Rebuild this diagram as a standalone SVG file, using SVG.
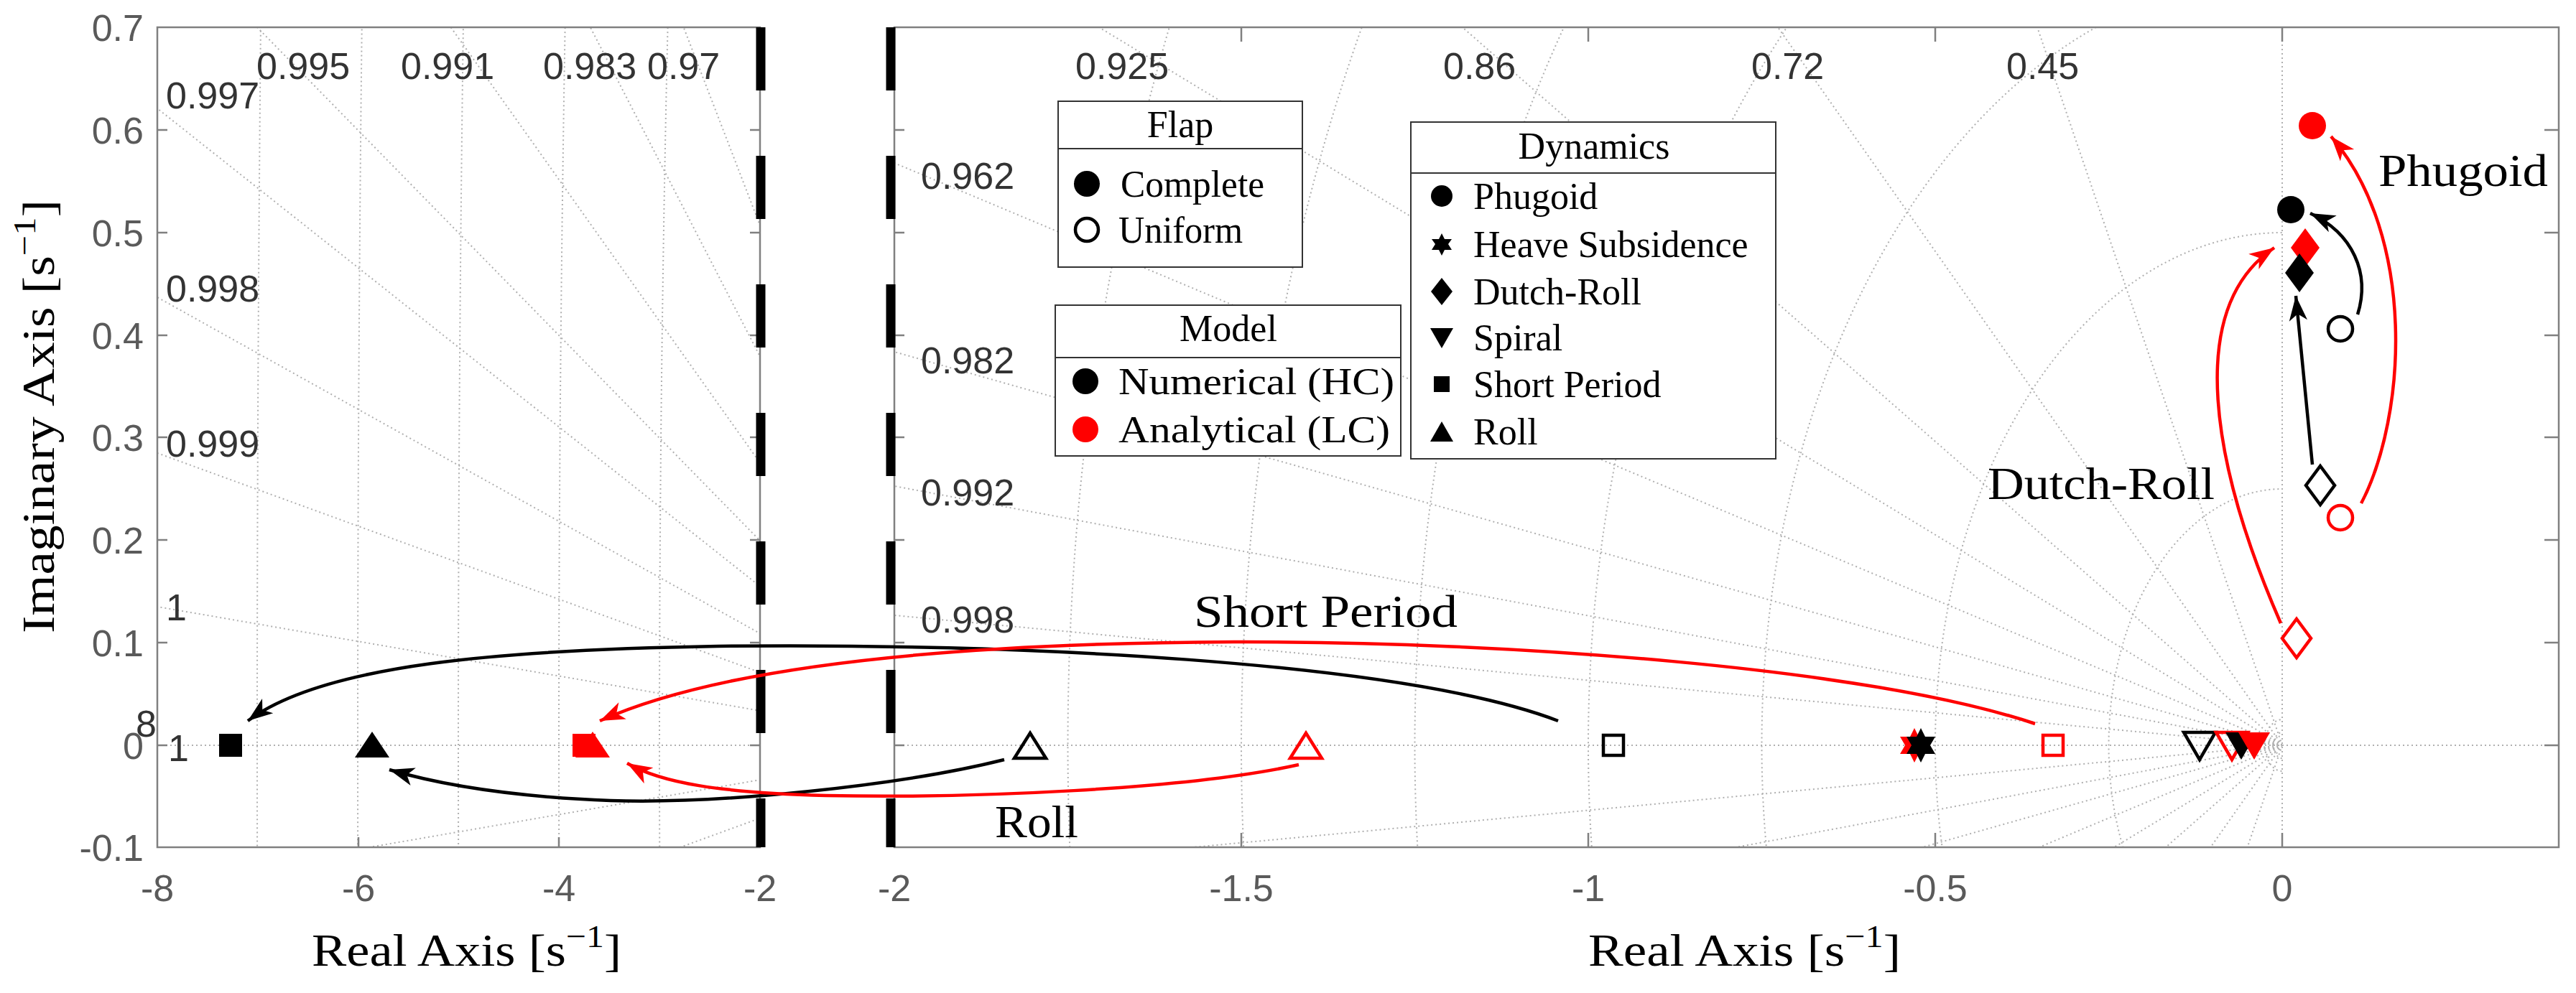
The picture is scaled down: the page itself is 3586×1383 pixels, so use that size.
<svg xmlns="http://www.w3.org/2000/svg" width="3586" height="1383" viewBox="0 0 3586 1383">
<style>
.grid{fill:none;stroke:#b0b0b0;stroke-width:2;stroke-dasharray:2 4}
.box{fill:none;stroke:#808080;stroke-width:2.5}
.tick{font-family:"Liberation Sans",Arial,sans-serif;font-size:52px;fill:#5a5a5a}
.zeta{font-family:"Liberation Sans",Arial,sans-serif;font-size:52px;fill:#333}
.lab{font-family:"Liberation Serif","Times New Roman",serif;fill:#000}
.leg{font-family:"Liberation Serif","Times New Roman",serif;font-size:52px;fill:#000}
.lbox{fill:#fff;stroke:#333;stroke-width:2}
.k{fill:#000}.r{fill:#f00}
.ko{fill:none;stroke:#000;stroke-width:4.5}.ro{fill:none;stroke:#f00;stroke-width:4.5}
.ck{fill:none;stroke:#000;stroke-width:4.5}.cr{fill:none;stroke:#f00;stroke-width:4.5}
.dash{stroke:#000;stroke-width:13;stroke-dasharray:88 91}
</style>
<defs>
<clipPath id="cl"><rect x="219" y="38" width="839" height="1142"/></clipPath>
<clipPath id="cr"><rect x="1245" y="38" width="1932" height="1142"/></clipPath>
<marker id="ak" markerUnits="userSpaceOnUse" markerWidth="40" markerHeight="30" viewBox="-32 -13 34 26" refX="0" refY="0" orient="auto"><path d="M0,0 L-30,-11 L-22,0 L-30,11 Z" fill="#000"/></marker>
<marker id="ar" markerUnits="userSpaceOnUse" markerWidth="40" markerHeight="30" viewBox="-32 -13 34 26" refX="0" refY="0" orient="auto"><path d="M0,0 L-30,-11 L-22,0 L-30,11 Z" fill="#f00"/></marker>
</defs>
<rect width="3586" height="1383" fill="#fff"/>
<g id="grid-left" clip-path="url(#cl)">
<line class="grid" x1="219" y1="1038" x2="1058" y2="1038"/>
<ellipse class="grid" cx="1337" cy="1038" rx="419" ry="4283"/>
<ellipse class="grid" cx="1337" cy="1038" rx="559" ry="5710"/>
<ellipse class="grid" cx="1337" cy="1038" rx="699" ry="7138"/>
<ellipse class="grid" cx="1337" cy="1038" rx="839" ry="8565"/>
<ellipse class="grid" cx="1337" cy="1038" rx="979" ry="9993"/>
<path class="grid" d="M1337,1038 L219,-1863 M1337,1038 L219,-1132 M1337,1038 L219,-538 M1337,1038 L219,-104 M1337,1038 L219,151 M1337,1038 L219,414 M1337,1038 L219,631 M1337,1038 L219,845 M1337,1038 L219,3939 M1337,1038 L219,3208 M1337,1038 L219,2614 M1337,1038 L219,2180 M1337,1038 L219,1925 M1337,1038 L219,1662 M1337,1038 L219,1445 M1337,1038 L219,1231"/>
</g>
<g id="grid-right">
<line class="grid" x1="1245" y1="1038" x2="3562" y2="1038"/>
<line class="grid" x1="3177" y1="38" x2="3177" y2="1180"/>
<g clip-path="url(#cr)">
<ellipse class="grid" cx="3177" cy="1038" rx="241.5" ry="357"/>
<ellipse class="grid" cx="3177" cy="1038" rx="483" ry="714"/>
<ellipse class="grid" cx="3177" cy="1038" rx="724.5" ry="1071"/>
<ellipse class="grid" cx="3177" cy="1038" rx="966" ry="1428"/>
<ellipse class="grid" cx="3177" cy="1038" rx="1207.5" ry="1784"/>
<ellipse class="grid" cx="3177" cy="1038" rx="1449" ry="2141"/>
<ellipse class="grid" cx="3177" cy="1038" rx="1690.5" ry="2498"/>
<ellipse class="grid" cx="3177" cy="1038" rx="12" ry="18"/>
<ellipse class="grid" cx="3177" cy="1038" rx="24" ry="36"/>
<path class="grid" d="M3177,1038 L1245,-4629 M3177,1038 L1245,-1714 M3177,1038 L1245,-655 M3177,1038 L1245,-135 M3177,1038 L1245,227 M3177,1038 L1245,490 M3177,1038 L1245,677 M3177,1038 L1245,857 M3177,1038 L1245,6705 M3177,1038 L1245,3790 M3177,1038 L1245,2731 M3177,1038 L1245,2211 M3177,1038 L1245,1849 M3177,1038 L1245,1586 M3177,1038 L1245,1399 M3177,1038 L1245,1219"/>
</g>
</g>
<g id="axes">
<rect class="box" x="219" y="38" width="839" height="1142"/>
<rect class="box" x="1245" y="38" width="2317" height="1142"/>
<path class="box" d="M219,181h14M219,324h14M219,467h14M219,609h14M219,752h14M219,895h14M219,1038h14M1058,181h-14M1058,324h-14M1058,467h-14M1058,609h-14M1058,752h-14M1058,895h-14M1058,1038h-14M499,1180v-14M778,1180v-14M1245,181h14M1245,324h14M1245,467h14M1245,609h14M1245,752h14M1245,895h14M1245,1038h14M3562,181h-20M3562,324h-20M3562,467h-20M3562,609h-20M3562,752h-20M3562,895h-20M3562,1038h-20M1728,1180v-20M2211,1180v-20M2694,1180v-20M3177,1180v-20M1728,38v20M2211,38v20M2694,38v20M3177,38v20"/>
<g class="tick" text-anchor="end">
<text x="200" y="57">0.7</text><text x="200" y="200">0.6</text><text x="200" y="343">0.5</text><text x="200" y="486">0.4</text><text x="200" y="628">0.3</text><text x="200" y="771">0.2</text><text x="200" y="914">0.1</text><text x="200" y="1057">0</text><text x="200" y="1199">-0.1</text>
</g>
<g class="tick" text-anchor="middle">
<text x="219" y="1255">-8</text><text x="499" y="1255">-6</text><text x="778" y="1255">-4</text><text x="1058" y="1255">-2</text>
<text x="1245" y="1255">-2</text><text x="1728" y="1255">-1.5</text><text x="2211" y="1255">-1</text><text x="2694" y="1255">-0.5</text><text x="3177" y="1255">0</text>
</g>
<g class="zeta">
<text x="357" y="110">0.995</text><text x="558" y="110">0.991</text><text x="756" y="110">0.983</text><text x="901" y="110">0.97</text>
<text x="231" y="151">0.997</text><text x="231" y="420">0.998</text><text x="231" y="636">0.999</text><text x="231" y="864">1</text>
<text x="189" y="1026">8</text><text x="234" y="1060">1</text>
<text x="1497" y="110">0.925</text><text x="2009" y="110">0.86</text><text x="2438" y="110">0.72</text><text x="2793" y="110">0.45</text>
<text x="1282" y="263">0.962</text><text x="1282" y="520">0.982</text><text x="1282" y="704">0.992</text><text x="1282" y="881">0.998</text>
</g>
<line class="dash" x1="1059" y1="38" x2="1059" y2="1180"/>
<line class="dash" x1="1240" y1="38" x2="1240" y2="1180"/>
<text class="lab" font-size="64" x="434" y="1345" textLength="431" lengthAdjust="spacingAndGlyphs">Real Axis [s<tspan font-size="44" dy="-26">−1</tspan><tspan dy="26">]</tspan></text>
<text class="lab" font-size="64" x="2211" y="1345" textLength="435" lengthAdjust="spacingAndGlyphs">Real Axis [s<tspan font-size="44" dy="-26">−1</tspan><tspan dy="26">]</tspan></text>
<text class="lab" font-size="64" transform="translate(75,882) rotate(-90)" textLength="604" lengthAdjust="spacingAndGlyphs">Imaginary Axis [s<tspan font-size="44" dy="-26">−1</tspan><tspan dy="26">]</tspan></text>
</g>
<g id="connectors">
<path class="ck" marker-end="url(#ak)" d="M2169,1004 C1950,920 1400,895 1000,900 C700,905 450,925 345,1004"/>
<path class="cr" marker-end="url(#ar)" d="M2833,1008 C2600,930 2100,893 1718,894 C1300,896 1000,930 835,1004"/>
<path class="ck" marker-end="url(#ak)" d="M1398,1058 C1250,1095 1000,1120 850,1115 C720,1110 620,1095 542,1072"/>
<path class="cr" marker-end="url(#ar)" d="M1808,1065 C1650,1100 1350,1112 1150,1108 C1000,1104 920,1090 873,1063"/>
<path class="ck" marker-end="url(#ak)" d="M3282,438 C3300,380 3275,325 3216,297"/>
<path class="ck" marker-end="url(#ak)" d="M3219,647 L3196,412"/>
<path class="cr" marker-end="url(#ar)" d="M3287,701 C3350,580 3365,330 3245,190"/>
<path class="cr" marker-end="url(#ar)" d="M3175,868 C3080,650 3040,430 3166,345"/>
</g>
<g id="markers">
<rect class="k" x="305" y="1022" width="32" height="32"/>
<path class="k" d="M494,1055 L542,1055 L518,1019 Z"/>
<rect class="r" x="797" y="1022" width="32" height="32"/>
<path class="r" d="M801,1055 L849,1055 L825,1019 Z"/>
<path class="ko" d="M1412,1056 L1456,1056 L1434,1021 Z"/>
<path class="ro" d="M1796,1056 L1840,1056 L1818,1021 Z"/>
<rect class="ko" x="2232" y="1024" width="28" height="28"/>
<rect class="ro" x="2844" y="1024" width="28" height="28"/>
<path class="r" d="M2665,1014 L2671,1026 L2685,1026 L2678,1038 L2685,1050 L2671,1050 L2665,1062 L2659,1050 L2645,1050 L2652,1038 L2645,1026 L2659,1026 Z"/>
<path class="k" d="M2674,1014 L2680,1026 L2694,1026 L2687,1038 L2694,1050 L2680,1050 L2674,1062 L2668,1050 L2654,1050 L2661,1038 L2654,1026 L2668,1026 Z"/>
<path class="ko" d="M3040,1020 L3084,1020 L3062,1058 Z"/>
<path class="ro" d="M3085,1020 L3129,1020 L3107,1058 Z"/>
<path class="k" d="M3098,1020 L3142,1020 L3120,1058 Z"/>
<path class="r" d="M3116,1020 L3160,1020 L3138,1058 Z"/>
<path class="ro" d="M3197,862 L3217,889 L3197,916 L3177,889 Z"/>
<circle class="r" cx="3219" cy="175" r="19"/>
<circle class="k" cx="3189" cy="292" r="19"/>
<path class="r" d="M3209,318 L3229,345 L3209,372 L3189,345 Z"/>
<path class="k" d="M3201,353 L3221,380 L3201,407 L3181,380 Z"/>
<circle class="ko" cx="3258" cy="458" r="17"/>
<path class="ko" d="M3230,649 L3250,676 L3230,703 L3210,676 Z"/>
<circle class="ro" cx="3258" cy="721" r="17"/>
</g>
<g id="labels" class="lab">
<text font-size="64" x="3311" y="259" textLength="236" lengthAdjust="spacingAndGlyphs">Phugoid</text>
<text font-size="64" x="2767" y="695" textLength="316" lengthAdjust="spacingAndGlyphs">Dutch-Roll</text>
<text font-size="64" x="1662" y="873" textLength="367" lengthAdjust="spacingAndGlyphs">Short Period</text>
<text font-size="64" x="1385" y="1166" textLength="116" lengthAdjust="spacingAndGlyphs">Roll</text>
</g>
<g id="legend-flap">
<rect class="lbox" x="1473" y="141" width="340" height="231"/>
<line stroke="#333" stroke-width="2" x1="1473" y1="207" x2="1813" y2="207"/>
<text class="leg" x="1643" y="191" text-anchor="middle">Flap</text>
<circle class="k" cx="1513" cy="256" r="18"/>
<text class="leg" x="1560" y="274" textLength="200" lengthAdjust="spacingAndGlyphs">Complete</text>
<circle class="ko" cx="1513" cy="320" r="16"/>
<text class="leg" x="1557" y="338" textLength="173" lengthAdjust="spacingAndGlyphs">Uniform</text>
</g>
<g id="legend-model">
<rect class="lbox" x="1469" y="425" width="481" height="210"/>
<line stroke="#333" stroke-width="2" x1="1469" y1="498" x2="1950" y2="498"/>
<text class="leg" x="1710" y="475" text-anchor="middle">Model</text>
<circle class="k" cx="1511" cy="531" r="18"/>
<text class="leg" x="1557" y="549" textLength="384" lengthAdjust="spacingAndGlyphs">Numerical (HC)</text>
<circle class="r" cx="1511" cy="598" r="18"/>
<text class="leg" x="1557" y="616" textLength="378" lengthAdjust="spacingAndGlyphs">Analytical (LC)</text>
</g>
<g id="legend-dynamics">
<rect class="lbox" x="1964" y="170" width="508" height="469"/>
<line stroke="#333" stroke-width="2" x1="1964" y1="241" x2="2472" y2="241"/>
<text class="leg" x="2219" y="221" text-anchor="middle">Dynamics</text>
<circle class="k" cx="2007" cy="273" r="15"/>
<text class="leg" x="2051" y="291">Phugoid</text>
<path class="k" d="M2007,325 L2011,333 L2021,333 L2016,340 L2021,348 L2011,348 L2007,356 L2003,348 L1993,348 L1998,340 L1993,333 L2003,333 Z"/>
<text class="leg" x="2051" y="358">Heave Subsidence</text>
<path class="k" d="M2007,387 L2022,406 L2007,425 L1992,406 Z"/>
<text class="leg" x="2051" y="424">Dutch-Roll</text>
<path class="k" d="M1991,457 L2023,457 L2007,485 Z"/>
<text class="leg" x="2051" y="488">Spiral</text>
<rect class="k" x="1996" y="524" width="22" height="22"/>
<text class="leg" x="2051" y="553">Short Period</text>
<path class="k" d="M1991,615 L2023,615 L2007,587 Z"/>
<text class="leg" x="2051" y="619">Roll</text>
</g>
</svg>
